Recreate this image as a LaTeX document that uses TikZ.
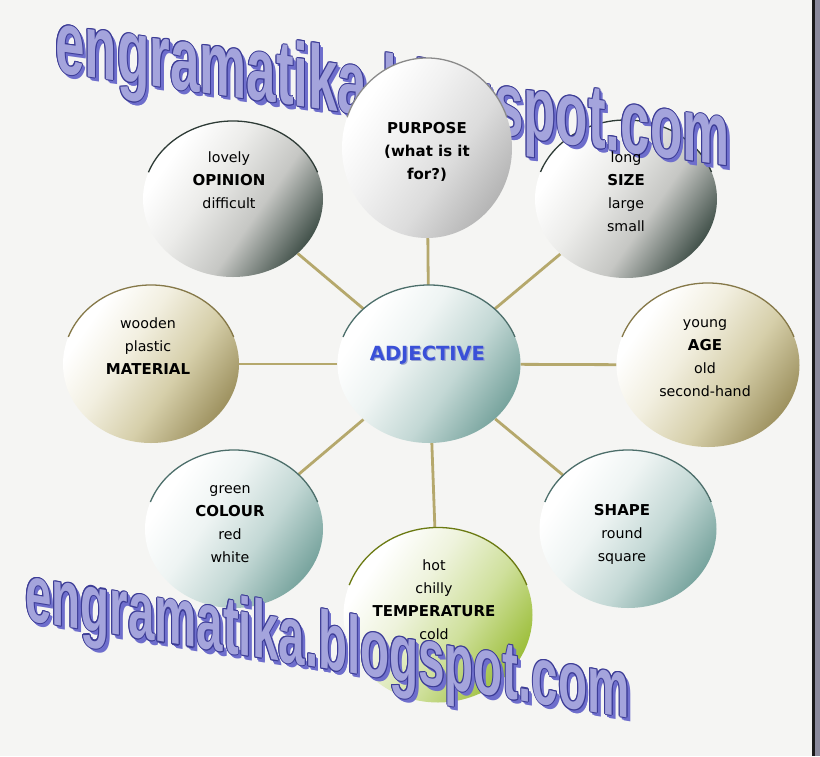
\documentclass[tikz,border=0pt]{standalone}
\usepackage{fontspec}
\setmainfont{DejaVu Sans}
\newfontfamily\wmfont{Liberation Sans}
\usetikzlibrary{shapes.geometric}
\pgfdeclarelayer{back}
\pgfdeclarelayer{lines}
\pgfsetlayers{back,lines,main}

\definecolor{bgc}{HTML}{F5F5F3}
\definecolor{linec}{HTML}{B5A86C}
\definecolor{strip}{HTML}{8B8A9C}
\definecolor{edge}{HTML}{1A1A1A}
\definecolor{adjblue}{HTML}{3A50D8}
\definecolor{adjshadow}{HTML}{9AA4CC}
\definecolor{wmfill}{HTML}{A4A4DC}
\definecolor{wmline}{HTML}{3C3C96}
\definecolor{wmshadow}{HTML}{6E6ECC}
% ball colours: light, mid, dark
\definecolor{gL}{HTML}{ECECEA}\definecolor{gM}{HTML}{C6C7C4}\definecolor{gD}{HTML}{44534C}
\definecolor{pL}{HTML}{F1F1F1}\definecolor{pM}{HTML}{DCDCDC}\definecolor{pD}{HTML}{B4B4B4}
\definecolor{oL}{HTML}{F2EFE0}\definecolor{oM}{HTML}{D6CFAA}\definecolor{oD}{HTML}{9E9260}
\definecolor{tL}{HTML}{EEF4F3}\definecolor{tM}{HTML}{C3D8D5}\definecolor{tD}{HTML}{78A49E}
\definecolor{vL}{HTML}{EEF3DC}\definecolor{vM}{HTML}{CFE09C}\definecolor{vD}{HTML}{9CBE3A}
\definecolor{gA}{HTML}{2E3B36}\definecolor{pA}{HTML}{8A8A8A}\definecolor{oA}{HTML}{857848}
\definecolor{tA}{HTML}{4C6E6A}\definecolor{vA}{HTML}{6B7A12}

\newcommand\mkball[4]{%
  \pgfdeclarehorizontalshading{#1}{100bp}{color(0bp)=(white); color(28bp)=(white); color(42bp)=(#2); color(58bp)=(#3); color(75bp)=(#4); color(100bp)=(#4)}}
\mkball{shgray}{gL}{gM}{gD}
\mkball{shpur}{pL}{pM}{pD}
\mkball{sholive}{oL}{oM}{oD}
\mkball{shteal}{tL}{tM}{tD}
\mkball{shgreen}{vL}{vM}{vD}

\newcommand\hd[1]{{\fontsize{15}{23}\selectfont\bfseries #1}}
% top arc: node, half width, half height, colour
\newcommand\toparc[4]{%
  \draw[#4, line width=1.3pt] (#1.center) ++(160:#2 and #3) arc[start angle=160, end angle=20, x radius=#2, y radius=#3];}
% watermark: name, position, font size, slant, yscale
\newcommand\wmark[5]{%
  \begin{scope}[shift={#2}, yslant=#4, yscale=#5, wmfnt/.style={font=\wmfont\bfseries\fontsize{#3}{#3}\selectfont}]
    \foreach \dx/\dy [count=\k] in {3.6/-2.2,3/-1.85,2.4/-1.5,1.8/-1.15}
      \node[wmtext, wmfnt, text=wmshadow] (#1s\k) at (\dx,\dy) {engramatika.blogspot.com};
    \foreach \dx/\dy [count=\k] in {1/0,-1/0,0/0.6,0/-0.6,0.7/0.42,-0.7/0.42,0.7/-0.42,-0.7/-0.42}
      \node[wmtext, wmfnt, text=wmline] (#1o\k) at (\dx,\dy) {engramatika.blogspot.com};
    \node[wmtext, wmfnt, text=wmfill] (#1f) at (0,0) {engramatika.blogspot.com};
  \end{scope}}

\begin{document}
\begin{tikzpicture}[x=1pt,y=1pt,
  ball/.style={ellipse, inner sep=0pt, shade, shading=#1, shading angle=-35},
  lbl/.style={align=center, inner sep=0pt, anchor=north, font=\fontsize{14.2}{23}\selectfont},
  conn/.style={draw=linec, line width=2.8pt},
  wmtext/.style={anchor=base west, inner sep=0pt, transform shape},
]
\useasboundingbox (0,0) rectangle (820,-756);
\begin{pgfonlayer}{back}
  \fill[bgc] (0,0) rectangle (812,-756);
  \fill[edge] (812,0) rectangle (815,-756);
  \fill[strip] (815,0) rectangle (820,-756);
\end{pgfonlayer}

% ellipses
\node[ball=shgray, minimum width=180pt, minimum height=156pt] (opn) at (233,-199) {};
\node[ball=shgray, minimum width=182pt, minimum height=158pt] (siz) at (626,-199) {};
\node[ball=sholive, minimum width=176pt, minimum height=158pt] (mat) at (151,-364) {};
\node[ball=sholive, minimum width=183pt, minimum height=164pt] (age) at (708,-365) {};
\node[ball=shteal, minimum width=183pt, minimum height=158pt] (adj) at (429,-364) {};
\node[ball=shteal, minimum width=178pt, minimum height=158pt] (col) at (234,-529) {};
\node[ball=shteal, minimum width=177pt, minimum height=158pt] (shp) at (628,-529) {};
\node[ball=shgreen, minimum width=189pt, minimum height=175pt] (tmp) at (438,-615) {};
\toparc{opn}{90pt}{78pt}{gA}
\toparc{siz}{91pt}{79pt}{gA}
\toparc{mat}{88pt}{79pt}{oA}
\toparc{age}{91.5pt}{82pt}{oA}
\toparc{adj}{91.5pt}{79pt}{tA}
\toparc{col}{89pt}{79pt}{tA}
\toparc{shp}{88.5pt}{79pt}{tA}
\toparc{tmp}{94.5pt}{87.5pt}{vA}

% top watermark (behind PURPOSE)
\wmark{wmtop}{(55,-72)}{53}{-0.14}{1.7}

\node[ball=shpur, minimum width=170pt, minimum height=180pt] (pur) at (427,-148) {};
\toparc{pur}{85pt}{90pt}{pA}

% connectors
\begin{pgfonlayer}{lines}
  \foreach \t in {pur,siz,age,shp,tmp,col,mat,opn}
    \draw[conn] (adj) -- (\t);
\end{pgfonlayer}

% texts
\node[lbl] (topn) at (229,-145.9) {\strut lovely\\\hd{OPINION}\\difficult};
\node[lbl] (tpur) at (427,-117.4) {\strut\hd{PURPOSE}\\\hd{(what is it}\\\hd{for?)}};
\node[lbl] (tsiz) at (626,-145.9) {\strut long\\\hd{SIZE}\\large\\small};
\node[lbl] (tmat) at (148,-311.9) {\strut wooden\\plastic\\\hd{MATERIAL}};
\node[lbl] (tage) at (705,-310.9) {\strut young\\\hd{AGE}\\old\\second-hand};
\node[lbl] (tcol) at (230,-476.9) {\strut green\\\hd{COLOUR}\\red\\white};
\node[lbl] (tshp) at (622,-498.9) {\strut\hd{SHAPE}\\round\\square};
\node[lbl] (ttmp) at (434,-553.9) {\strut hot\\chilly\\\hd{TEMPERATURE}\\cold};
\node[anchor=base, inner sep=0pt, text=adjshadow, font=\fontsize{19.5}{22}\selectfont\bfseries] (tadjs) at (428.7,-361.2) {ADJECTIVE};
\node[anchor=base, inner sep=0pt, text=adjblue, font=\fontsize{19.5}{22}\selectfont\bfseries] (tadj) at (427.5,-360) {ADJECTIVE};

% bottom watermark (in front)
\wmark{wmbot}{(25,-620)}{47.5}{-0.162}{1.72}
\end{tikzpicture}
\end{document}
